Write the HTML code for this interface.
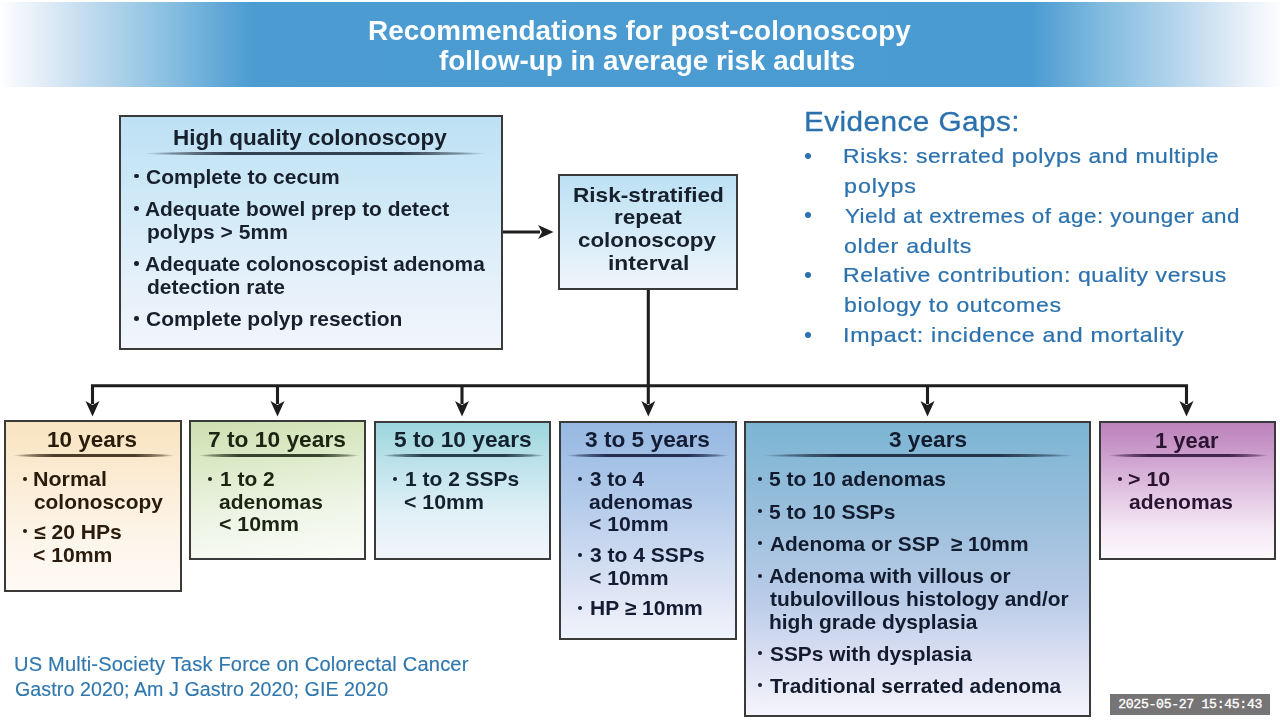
<!DOCTYPE html>
<html><head><meta charset="utf-8">
<style>
html,body{margin:0;padding:0;}
body{width:1280px;height:720px;position:relative;overflow:hidden;background:#fff;font-family:"Liberation Sans",sans-serif;}
.abs{position:absolute;}
#hdr{left:0;top:2.3px;width:1280px;height:85px;background:linear-gradient(90deg,#ffffff 0px,#f4f8fc 14px,#e4eef8 40px,#c6def0 80px,#a4cde8 130px,#80bade 180px,#62a8d7 220px,#4c9cd2 252px,#4a9bd1 1030px,#62a8d7 1062px,#80bade 1100px,#a2cce8 1150px,#c6def0 1200px,#e4eef8 1240px,#f4f8fc 1266px,#fcfdfe 1280px);}
.box{position:absolute;box-sizing:border-box;border:2px solid #3a3a3a;}
.ul{position:absolute;}
.t{position:absolute;font-weight:bold;white-space:nowrap;transform-origin:0 0;}
.b{position:absolute;border-radius:50%;}
</style></head><body>
<div id="hdr" class="abs"></div>
<div class="t" style="left:367.94px;top:13px;font-size:28.3px;line-height:34px;color:#fdfeff;transform:scaleX(0.9863);">Recommendations for post-colonoscopy</div>
<div class="t" style="left:438.58px;top:43px;font-size:28.3px;line-height:34px;color:#fdfeff;transform:scaleX(0.9839);">follow-up in average risk adults</div>
<svg class="abs" style="left:0;top:0" width="1280" height="720" viewBox="0 0 1280 720">
<g stroke="#1e1e1e" stroke-width="3.1" fill="none" stroke-linejoin="miter">
<path d="M92.5 404 V385.8 H1186.5 V404"/>
<path d="M648.3 289 V404"/>
<path d="M277.5 385.8 V404"/>
<path d="M462 385.8 V404"/>
<path d="M927.5 385.8 V404"/>
<path d="M502 232 H540"/>
</g>
<g fill="#1e1e1e">
<path d="M0 0 L-7 -15.5 L0 -11.5 L7 -15.5 Z" transform="translate(92.5 416.4)"/>
<path d="M0 0 L-7 -15.5 L0 -11.5 L7 -15.5 Z" transform="translate(277.5 416.4)"/>
<path d="M0 0 L-7 -15.5 L0 -11.5 L7 -15.5 Z" transform="translate(462 416.4)"/>
<path d="M0 0 L-7 -15.5 L0 -11.5 L7 -15.5 Z" transform="translate(648.3 416.4)"/>
<path d="M0 0 L-7 -15.5 L0 -11.5 L7 -15.5 Z" transform="translate(927.5 416.4)"/>
<path d="M0 0 L-7 -15.5 L0 -11.5 L7 -15.5 Z" transform="translate(1186.5 416.4)"/>
<path d="M0 0 L-15.5 -7 L-11.5 0 L-15.5 7 Z" transform="translate(553.5 232)"/>
</g>
</svg>
<div class="box" id="hq" style="left:118.5px;top:114.5px;width:384.5px;height:235px;background:linear-gradient(180deg,#bde1f4 0%,#cfe9f7 35%,#e4f0fa 70%,#f1f5fb 100%)"></div>
<div class="box" id="risk" style="left:558.4px;top:174px;width:180px;height:115.6px;background:linear-gradient(180deg,#bde1f4 0%,#d2eaf7 45%,#f0f5fb 100%)"></div>
<div class="box" id="b10" style="left:4px;top:420px;width:177.5px;height:172px;background:linear-gradient(180deg,#f8e4c0 0%,#fbecd5 35%,#fdf5ea 70%,#fefaf4 100%)"></div>
<div class="box" id="b710" style="left:189px;top:420px;width:177px;height:140px;background:linear-gradient(172deg,#cde0b0 0%,#dceac8 30%,#eef4e5 62%,#fafcf7 100%)"></div>
<div class="box" id="b510" style="left:374px;top:420.5px;width:177px;height:139.5px;background:linear-gradient(180deg,#9dd6de 0%,#bfe3eb 32%,#dfeff6 65%,#f1f5fb 100%)"></div>
<div class="box" id="b35" style="left:559px;top:420.5px;width:177.5px;height:219.7px;background:linear-gradient(180deg,#96b8e2 0%,#b2caea 35%,#d3def2 68%,#f1f3fb 100%)"></div>
<div class="box" id="b3" style="left:744.2px;top:420.5px;width:346.8px;height:296px;background:linear-gradient(180deg,#7cb5d3 0%,#98bedb 30%,#b9cbe7 60%,#dde1f3 82%,#f4f4fb 100%)"></div>
<div class="box" id="b1" style="left:1098.8px;top:420.5px;width:177.2px;height:139.3px;background:linear-gradient(180deg,#bc82bb 0%,#cda0cd 25%,#e2c5e2 52%,#f4e8f4 78%,#fcf8fc 100%)"></div>
<div class="t" style="left:172.94px;top:124px;font-size:22.2px;line-height:27px;color:#17202c;transform:scaleX(1.0144);">High quality colonoscopy</div>
<div class="ul" style="left:144px;width:342px;top:152.10px;height:3.0px;border-radius:50%/100%;filter:blur(.4px);background:linear-gradient(90deg,rgba(40,52,66,0) 0%,rgba(40,52,66,0.51) 8%,rgba(40,52,66,0.92) 25%,rgba(40,52,66,0.92) 75%,rgba(40,52,66,0.51) 92%,rgba(40,52,66,0) 100%)"></div>
<div class="b" style="left:134.10px;top:173.90px;width:4.6px;height:4.6px;background:#17202c"></div>
<div class="t" style="left:145.56px;top:165px;font-size:20.2px;line-height:24px;color:#17202c;transform:scaleX(1.0398);">Complete to cecum</div>
<div class="b" style="left:134.10px;top:206.20px;width:4.6px;height:4.6px;background:#17202c"></div>
<div class="t" style="left:145.48px;top:197px;font-size:20.2px;line-height:24px;color:#17202c;transform:scaleX(1.0353);">Adequate bowel prep to detect</div>
<div class="t" style="left:146.63px;top:220px;font-size:20.2px;line-height:24px;color:#17202c;transform:scaleX(1.0417);">polyps &gt; 5mm</div>
<div class="b" style="left:134.10px;top:261.10px;width:4.6px;height:4.6px;background:#17202c"></div>
<div class="t" style="left:145.48px;top:252px;font-size:20.2px;line-height:24px;color:#17202c;transform:scaleX(1.0338);">Adequate colonoscopist adenoma</div>
<div class="t" style="left:146.66px;top:275px;font-size:20.2px;line-height:24px;color:#17202c;transform:scaleX(1.0416);">detection rate</div>
<div class="b" style="left:134.10px;top:316.20px;width:4.6px;height:4.6px;background:#17202c"></div>
<div class="t" style="left:145.56px;top:307px;font-size:20.2px;line-height:24px;color:#17202c;transform:scaleX(1.0387);">Complete polyp resection</div>
<div class="t" style="left:572.93px;top:183px;font-size:20.2px;line-height:24px;color:#17202c;transform:scaleX(1.1207);">Risk-stratified</div>
<div class="t" style="left:613.83px;top:205px;font-size:20.2px;line-height:24px;color:#17202c;transform:scaleX(1.1187);">repeat</div>
<div class="t" style="left:578.06px;top:228px;font-size:20.2px;line-height:24px;color:#17202c;transform:scaleX(1.1077);">colonoscopy</div>
<div class="t" style="left:607.65px;top:251px;font-size:20.2px;line-height:24px;color:#17202c;transform:scaleX(1.1334);">interval</div>
<div class="t" style="left:47.29px;top:426px;font-size:22.2px;line-height:27px;color:#2a1c0c;transform:scaleX(1.0146);">10 years</div>
<div class="ul" style="left:13px;width:162px;top:453.60px;height:3.0px;border-radius:50%/100%;filter:blur(.4px);background:linear-gradient(90deg,rgba(60,45,25,0) 0%,rgba(60,45,25,0.51) 8%,rgba(60,45,25,0.92) 25%,rgba(60,45,25,0.92) 75%,rgba(60,45,25,0.51) 92%,rgba(60,45,25,0) 100%)"></div>
<div class="b" style="left:22.95px;top:476.65px;width:4.1px;height:4.1px;background:#2a1c0c"></div>
<div class="t" style="left:33.21px;top:467px;font-size:20.2px;line-height:24px;color:#2a1c0c;transform:scaleX(1.0619);">Normal</div>
<div class="t" style="left:33.82px;top:490px;font-size:20.2px;line-height:24px;color:#2a1c0c;transform:scaleX(1.0341);">colonoscopy</div>
<div class="b" style="left:22.95px;top:529.25px;width:4.1px;height:4.1px;background:#2a1c0c"></div>
<div class="t" style="left:33.72px;top:520px;font-size:20.2px;line-height:24px;color:#2a1c0c;transform:scaleX(1.0456);">&le; 20 HPs</div>
<div class="t" style="left:33.35px;top:543px;font-size:20.2px;line-height:24px;color:#2a1c0c;transform:scaleX(1.0484);">&lt; 10mm</div>
<div class="t" style="left:208.33px;top:426px;font-size:22.2px;line-height:27px;color:#1c2412;transform:scaleX(1.0256);">7 to 10 years</div>
<div class="ul" style="left:198px;width:162px;top:453.60px;height:3.0px;border-radius:50%/100%;filter:blur(.4px);background:linear-gradient(90deg,rgba(40,52,30,0) 0%,rgba(40,52,30,0.51) 8%,rgba(40,52,30,0.92) 25%,rgba(40,52,30,0.92) 75%,rgba(40,52,30,0.51) 92%,rgba(40,52,30,0) 100%)"></div>
<div class="b" style="left:207.85px;top:476.65px;width:4.1px;height:4.1px;background:#1c2412"></div>
<div class="t" style="left:219.69px;top:467px;font-size:20.2px;line-height:24px;color:#1c2412;transform:scaleX(1.0355);">1 to 2</div>
<div class="t" style="left:219.02px;top:490px;font-size:20.2px;line-height:24px;color:#1c2412;transform:scaleX(1.0398);">adenomas</div>
<div class="t" style="left:218.75px;top:512px;font-size:20.2px;line-height:24px;color:#1c2412;transform:scaleX(1.0552);">&lt; 10mm</div>
<div class="t" style="left:393.62px;top:426px;font-size:22.2px;line-height:27px;color:#13222e;transform:scaleX(1.0235);">5 to 10 years</div>
<div class="ul" style="left:382px;width:163px;top:453.60px;height:3.0px;border-radius:50%/100%;filter:blur(.4px);background:linear-gradient(90deg,rgba(25,50,62,0) 0%,rgba(25,50,62,0.51) 8%,rgba(25,50,62,0.92) 25%,rgba(25,50,62,0.92) 75%,rgba(25,50,62,0.51) 92%,rgba(25,50,62,0) 100%)"></div>
<div class="b" style="left:392.85px;top:476.65px;width:4.1px;height:4.1px;background:#13222e"></div>
<div class="t" style="left:404.69px;top:467px;font-size:20.2px;line-height:24px;color:#13222e;transform:scaleX(1.0392);">1 to 2 SSPs</div>
<div class="t" style="left:403.75px;top:490px;font-size:20.2px;line-height:24px;color:#13222e;transform:scaleX(1.0552);">&lt; 10mm</div>
<div class="t" style="left:585.19px;top:426px;font-size:22.2px;line-height:27px;color:#131c33;transform:scaleX(1.0222);">3 to 5 years</div>
<div class="ul" style="left:566px;width:163px;top:453.60px;height:3.0px;border-radius:50%/100%;filter:blur(.4px);background:linear-gradient(90deg,rgba(25,35,70,0) 0%,rgba(25,35,70,0.51) 8%,rgba(25,35,70,0.92) 25%,rgba(25,35,70,0.92) 75%,rgba(25,35,70,0.51) 92%,rgba(25,35,70,0) 100%)"></div>
<div class="b" style="left:577.85px;top:476.65px;width:4.1px;height:4.1px;background:#131c33"></div>
<div class="t" style="left:589.93px;top:467px;font-size:20.2px;line-height:24px;color:#131c33;transform:scaleX(1.0265);">3 to 4</div>
<div class="t" style="left:589.42px;top:490px;font-size:20.2px;line-height:24px;color:#131c33;transform:scaleX(1.0418);">adenomas</div>
<div class="t" style="left:589.15px;top:512px;font-size:20.2px;line-height:24px;color:#131c33;transform:scaleX(1.0498);">&lt; 10mm</div>
<div class="b" style="left:577.85px;top:552.65px;width:4.1px;height:4.1px;background:#131c33"></div>
<div class="t" style="left:589.93px;top:543px;font-size:20.2px;line-height:24px;color:#131c33;transform:scaleX(1.0425);">3 to 4 SSPs</div>
<div class="t" style="left:589.15px;top:566px;font-size:20.2px;line-height:24px;color:#131c33;transform:scaleX(1.0498);">&lt; 10mm</div>
<div class="b" style="left:577.85px;top:605.65px;width:4.1px;height:4.1px;background:#131c33"></div>
<div class="t" style="left:589.63px;top:596px;font-size:20.2px;line-height:24px;color:#131c33;transform:scaleX(1.0411);">HP &ge; 10mm</div>
<div class="t" style="left:889.19px;top:426px;font-size:22.2px;line-height:27px;color:#131c2e;transform:scaleX(1.0199);">3 years</div>
<div class="ul" style="left:763px;width:312px;top:453.60px;height:3.0px;border-radius:50%/100%;filter:blur(.4px);background:linear-gradient(90deg,rgba(25,40,62,0) 0%,rgba(25,40,62,0.51) 8%,rgba(25,40,62,0.92) 25%,rgba(25,40,62,0.92) 75%,rgba(25,40,62,0.51) 92%,rgba(25,40,62,0) 100%)"></div>
<div class="b" style="left:757.75px;top:476.65px;width:4.1px;height:4.1px;background:#131c2e"></div>
<div class="t" style="left:768.87px;top:467px;font-size:20.2px;line-height:24px;color:#131c2e;transform:scaleX(1.0439);">5 to 10 adenomas</div>
<div class="b" style="left:757.75px;top:509.25px;width:4.1px;height:4.1px;background:#131c2e"></div>
<div class="t" style="left:768.87px;top:500px;font-size:20.2px;line-height:24px;color:#131c2e;transform:scaleX(1.0426);">5 to 10 SSPs</div>
<div class="b" style="left:757.75px;top:541.05px;width:4.1px;height:4.1px;background:#131c2e"></div>
<div class="t" style="left:769.58px;top:532px;font-size:20.2px;line-height:24px;color:#131c2e;transform:scaleX(1.0354);">Adenoma or SSP &nbsp;&ge; 10mm</div>
<div class="b" style="left:757.75px;top:573.65px;width:4.1px;height:4.1px;background:#131c2e"></div>
<div class="t" style="left:769.28px;top:564px;font-size:20.2px;line-height:24px;color:#131c2e;transform:scaleX(1.0359);">Adenoma with villous or</div>
<div class="t" style="left:770.09px;top:587px;font-size:20.2px;line-height:24px;color:#131c2e;transform:scaleX(1.0361);">tubulovillous histology and/or</div>
<div class="t" style="left:768.88px;top:610px;font-size:20.2px;line-height:24px;color:#131c2e;transform:scaleX(1.0379);">high grade dysplasia</div>
<div class="b" style="left:757.75px;top:651.35px;width:4.1px;height:4.1px;background:#131c2e"></div>
<div class="t" style="left:769.73px;top:642px;font-size:20.2px;line-height:24px;color:#131c2e;transform:scaleX(1.0342);">SSPs with dysplasia</div>
<div class="b" style="left:757.75px;top:683.25px;width:4.1px;height:4.1px;background:#131c2e"></div>
<div class="t" style="left:769.79px;top:674px;font-size:20.2px;line-height:24px;color:#131c2e;transform:scaleX(1.0341);">Traditional serrated adenoma</div>
<div class="t" style="left:1154.88px;top:427px;font-size:22.2px;line-height:27px;color:#2a1432;transform:scaleX(0.9897);">1 year</div>
<div class="ul" style="left:1108px;width:161px;top:453.50px;height:3.0px;border-radius:50%/100%;filter:blur(.4px);background:linear-gradient(90deg,rgba(55,25,65,0) 0%,rgba(55,25,65,0.51) 8%,rgba(55,25,65,0.92) 25%,rgba(55,25,65,0.92) 75%,rgba(55,25,65,0.51) 92%,rgba(55,25,65,0) 100%)"></div>
<div class="b" style="left:1118.15px;top:476.65px;width:4.1px;height:4.1px;background:#2a1432"></div>
<div class="t" style="left:1128.34px;top:467px;font-size:20.2px;line-height:24px;color:#2a1432;transform:scaleX(1.0606);">&gt; 10</div>
<div class="t" style="left:1129.02px;top:490px;font-size:20.2px;line-height:24px;color:#2a1432;transform:scaleX(1.0418);">adenomas</div>
<div class="t" style="left:804.02px;top:104px;font-size:28.4px;line-height:34px;color:#2b71ad;transform:scaleX(1.0483);font-weight:normal;-webkit-text-stroke:0.3px #2b71ad;letter-spacing:0.402px;">Evidence Gaps:</div>
<div class="t" style="left:843.47px;top:143px;font-size:20.8px;line-height:25px;color:#2b71ad;transform:scaleX(1.1013);font-weight:normal;-webkit-text-stroke:0.22px #2b71ad;letter-spacing:0.543px;">Risks: serrated polyps and multiple</div>
<div class="t" style="left:843.84px;top:173px;font-size:20.8px;line-height:25px;color:#2b71ad;transform:scaleX(1.1215);font-weight:normal;-webkit-text-stroke:0.22px #2b71ad;letter-spacing:0.813px;">polyps</div>
<div class="t" style="left:844.85px;top:203px;font-size:20.8px;line-height:25px;color:#2b71ad;transform:scaleX(1.0779);font-weight:normal;-webkit-text-stroke:0.22px #2b71ad;letter-spacing:0.425px;">Yield at extremes of age: younger and</div>
<div class="t" style="left:844.37px;top:233px;font-size:20.8px;line-height:25px;color:#2b71ad;transform:scaleX(1.1136);font-weight:normal;-webkit-text-stroke:0.22px #2b71ad;letter-spacing:0.628px;">older adults</div>
<div class="t" style="left:843.46px;top:262px;font-size:20.8px;line-height:25px;color:#2b71ad;transform:scaleX(1.1055);font-weight:normal;-webkit-text-stroke:0.22px #2b71ad;letter-spacing:0.544px;">Relative contribution: quality versus</div>
<div class="t" style="left:843.86px;top:292px;font-size:20.8px;line-height:25px;color:#2b71ad;transform:scaleX(1.1062);font-weight:normal;-webkit-text-stroke:0.22px #2b71ad;letter-spacing:0.617px;">biology to outcomes</div>
<div class="t" style="left:843.21px;top:322px;font-size:20.8px;line-height:25px;color:#2b71ad;transform:scaleX(1.1152);font-weight:normal;-webkit-text-stroke:0.22px #2b71ad;letter-spacing:0.628px;">Impact: incidence and mortality</div>
<div class="b" style="left:805.00px;top:152.60px;width:6px;height:6px;background:#2b71ad"></div>
<div class="b" style="left:805.00px;top:212.10px;width:6px;height:6px;background:#2b71ad"></div>
<div class="b" style="left:805.00px;top:271.60px;width:6px;height:6px;background:#2b71ad"></div>
<div class="b" style="left:805.00px;top:331.60px;width:6px;height:6px;background:#2b71ad"></div>
<div class="t" style="left:13.99px;top:652px;font-size:19.4px;line-height:24px;color:#3077ae;transform:scaleX(1.0351);font-weight:normal;-webkit-text-stroke:0.15px #3077ae;letter-spacing:0.176px;">US Multi-Society Task Force on Colorectal Cancer</div>
<div class="t" style="left:14.52px;top:677px;font-size:19.4px;line-height:24px;color:#3077ae;transform:scaleX(1.0136);font-weight:normal;-webkit-text-stroke:0.15px #3077ae;letter-spacing:0.070px;">Gastro 2020; Am J Gastro 2020; GIE 2020</div>
<div class="abs" style="left:1109.7px;top:693.6px;width:160.2px;height:21.1px;background:#767474"></div>
<div class="t" style="left:1118.2px;top:696px;font-family:'Liberation Mono',monospace;font-weight:normal;-webkit-text-stroke:.35px #fff;font-size:13.2px;letter-spacing:-0.34px;line-height:18px;color:#fff;">2025-05-27 15:45:43</div>
</body></html>
